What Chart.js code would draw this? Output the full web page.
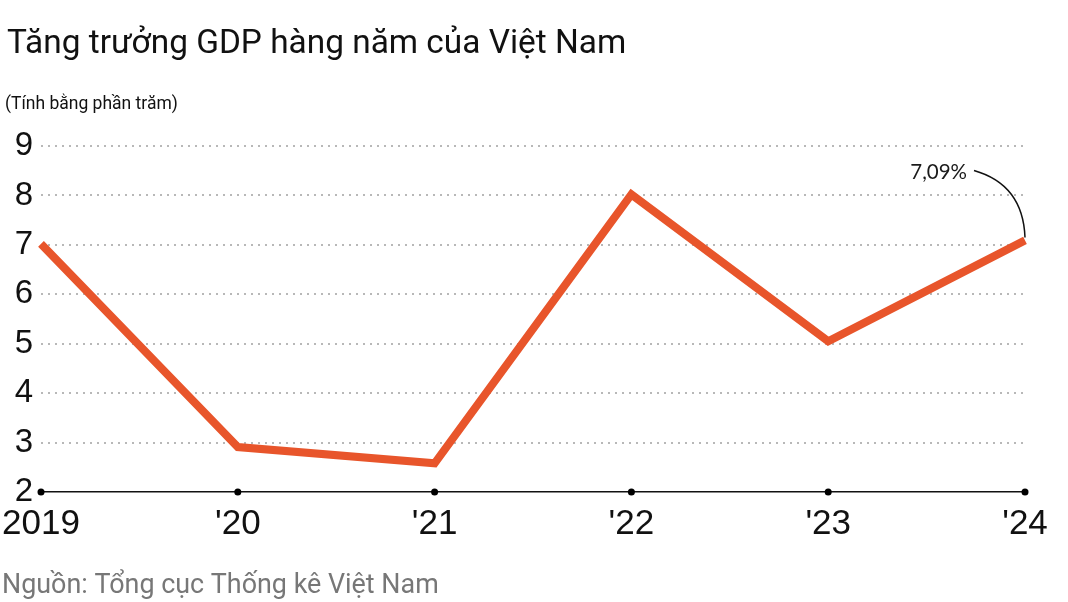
<!DOCTYPE html>
<html>
<head>
<meta charset="utf-8">
<script src="https://cdn.jsdelivr.net/npm/chart.js@4/dist/chart.umd.min.js"></script>
<style>
  html, body { margin: 0; padding: 0; background: #ffffff; }
  #wrap { position: relative; width: 1068px; height: 602px; }
  canvas { display: block; }
</style>
</head>
<body>
<div id="wrap"><canvas id="c" width="1068" height="602"></canvas></div>
<script>
// ---- Data ----
const categories = ['2019', "'20", "'21", "'22", "'23", "'24"];
const gdpGrowth = [7.02, 2.91, 2.58, 8.02, 5.05, 7.09];
const baselineDots = [2, 2, 2, 2, 2, 2];
const yMin = 2;
const yMax = 9;
const titleText = 'Tăng trưởng GDP hàng năm của Việt Nam';
const subtitleText = '(Tính bằng phần trăm)';
const sourceText = 'Nguồn: Tổng cục Thống kê Việt Nam';

const lastLabel = gdpGrowth[gdpGrowth.length - 1].toFixed(2).replace('.', ',') + '%';

const textPlugin = {
  id: 'texts',
  afterDraw(chart) {
    const ctx = chart.ctx;
    ctx.save();
    ctx.textBaseline = 'alphabetic';
    ctx.textAlign = 'left';
    ctx.fillStyle = '#111111';
    ctx.font = '33.4px Roboto';
    ctx.fillText(titleText, 7, 53);
    ctx.font = '17.5px Roboto';
    ctx.fillText(subtitleText, 5, 109);
    ctx.fillStyle = '#777777';
    ctx.font = '26.9px Roboto';
    ctx.fillText(sourceText, 2, 593);
    ctx.restore();
  }
};

const annotationPlugin = {
  id: 'lastAnnot',
  afterDatasetsDraw(chart) {
    const meta = chart.getDatasetMeta(0);
    const pt = meta.data[meta.data.length - 1];
    const ctx = chart.ctx;
    ctx.save();
    ctx.fillStyle = '#1a1a1a';
    ctx.font = '20.5px Lato';
    ctx.textAlign = 'right';
    ctx.textBaseline = 'middle';
    ctx.fillText(lastLabel, pt.x - 58, pt.y - 68);
    ctx.strokeStyle = '#111111';
    ctx.lineWidth = 1.5;
    ctx.beginPath();
    ctx.moveTo(pt.x - 51, pt.y - 70);
    ctx.quadraticCurveTo(pt.x - 2, pt.y - 56, pt.x, pt.y - 3);
    ctx.stroke();
    ctx.restore();
  }
};

new Chart(document.getElementById('c'), {
  type: 'line',
  data: {
    labels: categories,
    datasets: [
      {
        label: 'GDP',
        data: gdpGrowth,
        borderColor: '#E8552B',
        borderWidth: 8,
        borderCapStyle: 'butt',
        borderJoinStyle: 'miter',
        pointRadius: 0,
        tension: 0,
        fill: false
      },
      {
        label: 'axis',
        data: baselineDots,
        showLine: false,
        pointRadius: 3.5,
        pointBackgroundColor: '#000000',
        pointBorderWidth: 0,
        clip: false
      }
    ]
  },
  options: {
    responsive: false,
    animation: false,
    events: [],
    layout: { padding: { top: 146, right: 43, bottom: 60, left: 0 } },
    plugins: { legend: { display: false }, tooltip: { enabled: false }, title: { display: false } },
    scales: {
      x: {
        grid: { display: false, drawTicks: false },
        border: { display: true, color: '#111111', width: 1.5 },
        ticks: {
          color: '#111111',
          font: { family: 'Liberation Sans', size: 35 },
          padding: 11,
          maxRotation: 0,
          autoSkip: false
        },
        afterFit(scale) {
          scale.height = 50;
          scale.paddingLeft = 0;
          scale.paddingRight = 0;
        }
      },
      y: {
        min: yMin,
        max: yMax,
        grid: {
          drawTicks: false,
          color: (c) => (c.tick && c.tick.value === yMin ? 'rgba(0,0,0,0)' : '#b8b8b8'),
          lineWidth: 2
        },
        border: { display: false, dash: [2, 5] },
        ticks: {
          stepSize: 1,
          color: '#111111',
          font: { family: 'Liberation Sans', size: 33 },
          padding: 8
        },
        afterFit(scale) { scale.width = 41; }
      }
    }
  },
  plugins: [textPlugin, annotationPlugin]
});
</script>
</body>
</html>
